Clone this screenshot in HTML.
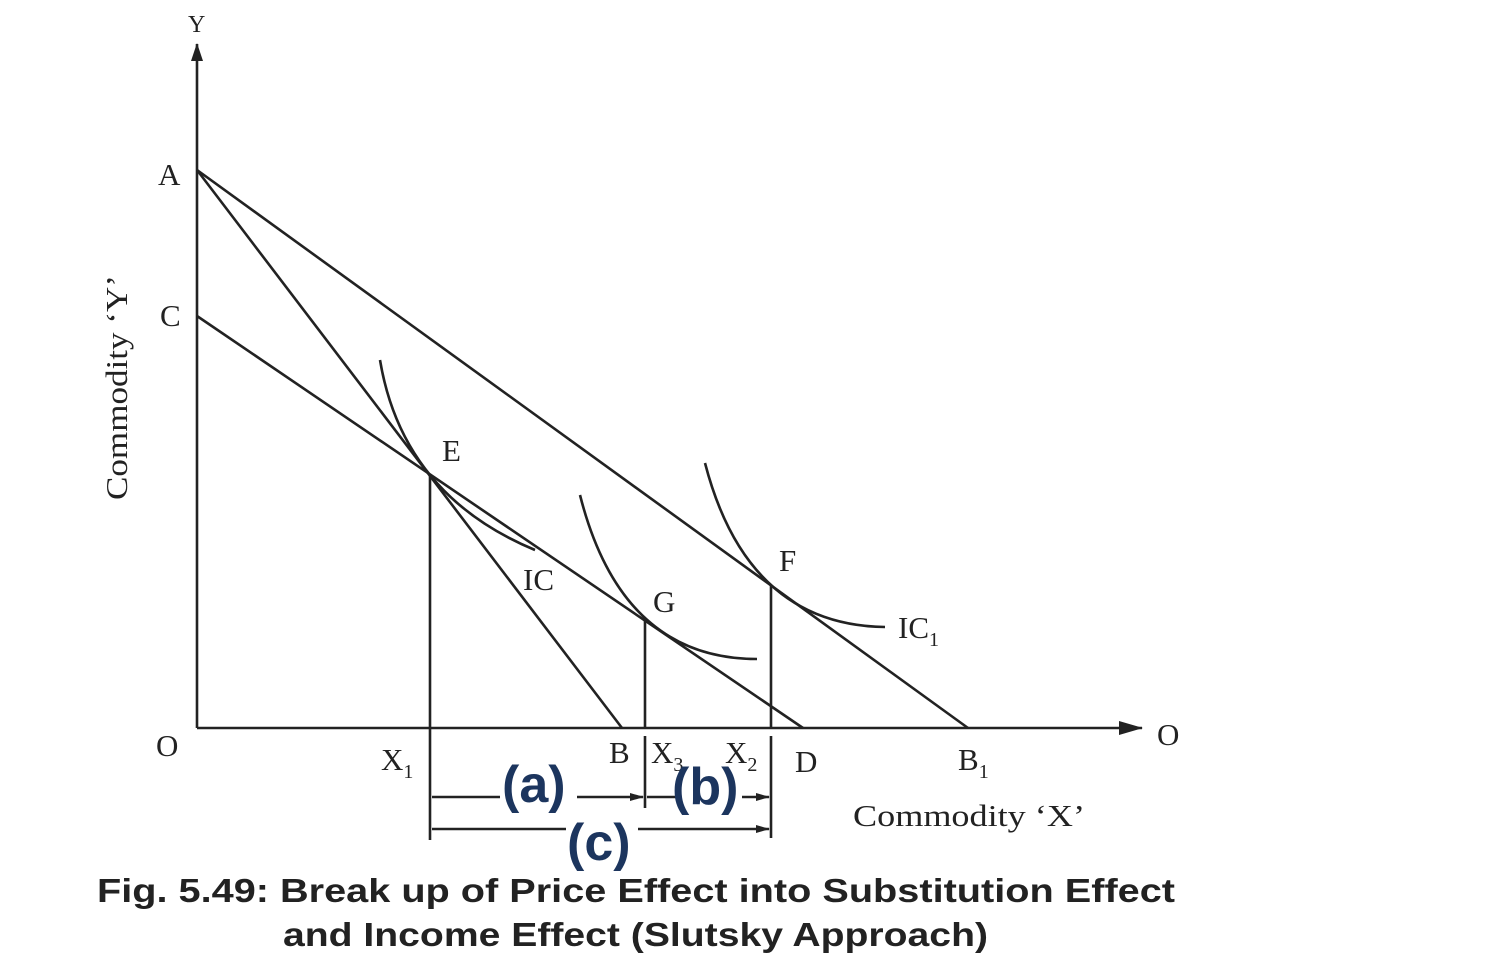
<!DOCTYPE html>
<html><head><meta charset="utf-8"><style>
html,body{margin:0;padding:0;background:#fff;}
svg{display:block;}
.lbl{font-family:"Liberation Serif",serif;font-size:31px;fill:#222;}
.abc{font-family:"Liberation Sans",sans-serif;font-weight:bold;font-size:52px;fill:#1c355e;}
.cap{font-family:"Liberation Sans",sans-serif;font-weight:bold;font-size:33px;fill:#222;}
</style></head><body>
<svg id="chart" width="1485" height="964" viewBox="0 0 1485 964">
<defs><marker id="ah" markerUnits="userSpaceOnUse" markerWidth="14" markerHeight="8" refX="13" refY="4" orient="auto"><path d="M0,0 L14,4 L0,8 z" fill="#222"/></marker>
<marker id="ahy" markerUnits="userSpaceOnUse" markerWidth="18" markerHeight="12" refX="17" refY="6" orient="auto"><path d="M0,0 L18,6 L0,12 z" fill="#222"/></marker>
<marker id="ah2" markerUnits="userSpaceOnUse" markerWidth="24" markerHeight="14" refX="23" refY="7" orient="auto"><path d="M0,0 L24,7 L0,14 z" fill="#222"/></marker></defs>
<g id="marks" stroke="#222" stroke-width="2.6" fill="none"></g>
<g id="labels"></g>
</svg>
<script>
// Axis and point data (in diagram units: x = commodity X, y = commodity Y)
const originPx = [197, 728];
const scale = 1; // px per unit
const budgetLines = [ {name:'budget-line-ab', from:[0,558], to:[425,0]},
                      {name:'budget-line-ab1', from:[0,558], to:[771,0]},
                      {name:'budget-line-cd', from:[0,412], to:[606,0]} ];
const icCurves = [ {name:'ic-curve', pts:[[183,368],[233,253],[338,178]]},
                   {name:'ic-curve-g', pts:[[383,233],[448,110],[560,69]]},
                   {name:'ic1-curve', pts:[[508,265],[574,143],[688,101]]} ];
const equilibria = [ {name:'point-e', p:[233,253], label:'E'},
                     {name:'point-g', p:[448,110], label:'G'},
                     {name:'point-f', p:[574,143], label:'F'} ];
function X(v){return originPx[0]+v*scale;}
function Y(v){return originPx[1]-v*scale;}
const NS='http://www.w3.org/2000/svg';
const g=document.getElementById('marks');
function mk(tag,attrs,parent,name){const e=document.createElementNS(NS,tag);for(const k in attrs)e.setAttribute(k,attrs[k]);


(parent||g).appendChild(e);return e;}
// axes
mk('line',{x1:X(0),y1:Y(0),x2:X(0),y2:44,'marker-end':'url(#ahy)'},g,'y-axis');
mk('line',{x1:X(0),y1:Y(0),x2:1142,y2:Y(0),'marker-end':'url(#ah2)'},g,'x-axis');
budgetLines.forEach(b=>mk('line',{x1:X(b.from[0]),y1:Y(b.from[1]),x2:X(b.to[0]),y2:Y(b.to[1])},g,b.name));
icCurves.forEach(c=>{const [a,m,e]=c.pts;
 const cx=2*X(m[0])-(X(a[0])+X(e[0]))/2, cy=2*Y(m[1])-(Y(a[1])+Y(e[1]))/2;
 mk('path',{d:`M${X(a[0])},${Y(a[1])} Q${cx},${cy} ${X(e[0])},${Y(e[1])}`},g,c.name);});
// drop lines
mk('line',{x1:X(233),y1:Y(253),x2:X(233),y2:840},g,'drop-line-x1');
mk('line',{x1:X(448),y1:Y(110),x2:X(448),y2:Y(0)},g,'drop-line-x3');
mk('line',{x1:X(448),y1:736,x2:X(448),y2:808},g,'bracket-x3');
mk('line',{x1:X(574),y1:Y(143),x2:X(574),y2:Y(0)},g,'drop-line-x2');
mk('line',{x1:X(574),y1:736,x2:X(574),y2:838},g,'bracket-x2');
// effect arrows
mk('line',{x1:432,y1:797,x2:500,y2:797},g,'arrow-a-left');
mk('line',{x1:577,y1:797,x2:643,y2:797,'marker-end':'url(#ah)'},g,'arrow-a-right');
mk('line',{x1:647,y1:797,x2:676,y2:797},g,'arrow-b-left');
mk('line',{x1:742,y1:797,x2:769,y2:797,'marker-end':'url(#ah)'},g,'arrow-b-right');
mk('line',{x1:432,y1:829,x2:566,y2:829},g,'arrow-c-left');
mk('line',{x1:638,y1:829,x2:769,y2:829,'marker-end':'url(#ah)'},g,'arrow-c-right');
const L=document.getElementById('labels');
function t(x,y,s,cls,name,extra){const e=mk('text',Object.assign({x:x,y:y,class:cls},extra||{}),L,name);e.innerHTML=s;return e;}
t(188,32,'Y','lbl','y-axis-letter',{style:'font-size:24px'});
t(158,185,'A','lbl','label-a');
t(160,326,'C','lbl','label-c');
t(156,756,'O','lbl','label-origin');
t(1157,745,'O','lbl','label-x-end');
equilibria.forEach(p=>t(X(p.p[0])+(p.label==='E'?12:8),Y(p.p[1])-(p.label==='G'?6:14),p.label,'lbl',p.name+'-label'));
t(523,590,'IC','lbl','ic-label');
t(898,638,'IC<tspan font-size="20" dy="8">1</tspan>','lbl','ic1-label');
t(381,770,'X<tspan font-size="20" dy="8">1</tspan>','lbl','x1-label');
t(609,763,'B','lbl','label-b');
t(651,763,'X<tspan font-size="20" dy="8">3</tspan>','lbl','x3-label');
t(725,763,'X<tspan font-size="20" dy="8">2</tspan>','lbl','x2-label');
t(795,772,'D','lbl','label-d');
t(958,770,'B<tspan font-size="20" dy="8">1</tspan>','lbl','label-b1');
t(853,826,'Commodity ‘X’','lbl','x-axis-title',{textLength:232,lengthAdjust:'spacingAndGlyphs'});
t(0,0,'Commodity ‘Y’','lbl','y-axis-title',{transform:'translate(127,500) rotate(-90)',textLength:225,lengthAdjust:'spacingAndGlyphs'});
t(502,802,'(a)','abc','label-substitution-effect');
t(672,804,'(b)','abc','label-income-effect');
t(567,860,'(c)','abc','label-price-effect');
t(97,902,'Fig. 5.49: Break up of Price Effect into Substitution Effect','cap','caption-line-1',{textLength:1078,lengthAdjust:'spacingAndGlyphs'});
t(283,946,'and Income Effect (Slutsky Approach)','cap','caption-line-2',{textLength:705,lengthAdjust:'spacingAndGlyphs'});
</script>
</body></html>
